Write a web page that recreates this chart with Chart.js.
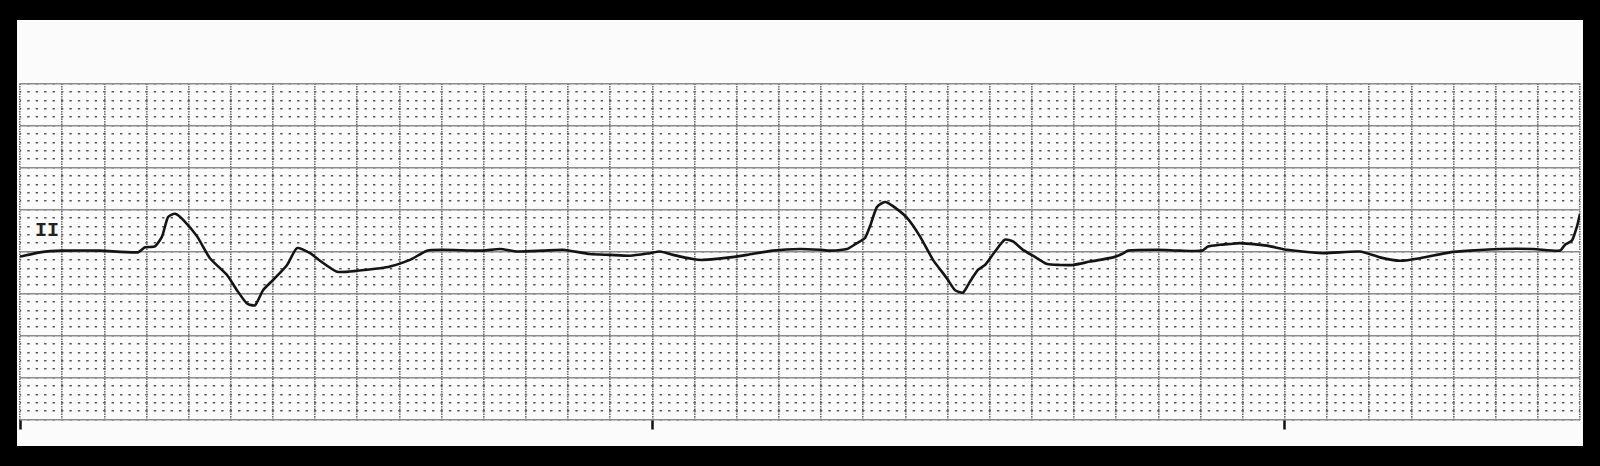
<!DOCTYPE html>
<html>
<head>
<meta charset="utf-8">
<title>ECG derivación II</title>
<script src="https://cdn.jsdelivr.net/npm/chart.js@4.4.1/dist/chart.umd.min.js"></script>
<style>
    html, body { margin: 0; padding: 0; width: 1600px; height: 466px; overflow: hidden; background: #000; }
    .paper { position: absolute; left: 17px; top: 20px; width: 1566px; height: 426px; background: #fbfbfb; }
    #ecg { position: absolute; left: 0; top: 0; }
    .lead { position: absolute; left: 33px; top: 219px; padding: 0 2px; line-height: 22px;
            font: bold 20px "Liberation Mono", "DejaVu Sans Mono", monospace; color: #222; background: #fbfbfb; }
</style>
</head>
<body>
<div class="paper"></div>
<canvas id="ecg" width="1600" height="466"></canvas>
<div class="lead">II</div>
<script>
'use strict';

const tiempoMs = [0, 95, 204, 380, 560, 593, 640, 674, 702, 735,
    773, 840, 901, 982, 1029, 1077, 1115, 1153, 1200, 1267,
    1314, 1376, 1423, 1504, 1599, 1708, 1755, 1850, 1931, 2007,
    2196, 2277, 2358, 2481, 2576, 2704, 2799, 2894, 2988, 3036,
    3098, 3192, 3240, 3368, 3449, 3572, 3700, 3795, 3842, 3923,
    3970, 4008, 4032, 4065, 4103, 4141, 4208, 4269, 4331, 4397,
    4435, 4473, 4506, 4544, 4578, 4625, 4672, 4710, 4758, 4805,
    4872, 4933, 4995, 5076, 5185, 5227, 5256, 5393, 5503, 5607,
    5635, 5692, 5740, 5787, 5915, 6010, 6181, 6356, 6451, 6546,
    6641, 6783, 6878, 7021, 7177, 7305, 7329, 7362, 7386, 7400];

const voltajeMv = [-0.06, -0.01, 0.01, 0.01, -0.01, 0.05, 0.06, 0.18, 0.41, 0.45,
    0.38, 0.18, -0.08, -0.28, -0.46, -0.62, -0.64, -0.46, -0.34, -0.16,
    0.04, -0.02, -0.11, -0.24, -0.23, -0.2, -0.18, -0.1, 0.01, 0.02,
    0.01, 0.03, 0, 0.01, 0.02, -0.03, -0.04, -0.05, -0.02, 0,
    -0.04, -0.09, -0.1, -0.07, -0.04, 0.01, 0.03, 0.02, 0.01, 0.03,
    0.1, 0.16, 0.3, 0.53, 0.59, 0.54, 0.4, 0.18, -0.1, -0.32,
    -0.46, -0.49, -0.36, -0.22, -0.16, 0, 0.14, 0.12, 0.02, -0.05,
    -0.15, -0.16, -0.16, -0.12, -0.07, -0.03, 0.01, 0.02, 0.01, 0.01,
    0.06, 0.08, 0.09, 0.1, 0.07, 0.02, -0.02, 0, -0.07, -0.11,
    -0.08, -0.01, 0.01, 0.03, 0.03, 0.01, 0.08, 0.13, 0.3, 0.45];

/*papel: 25 mm/s, 10 mm/mV*/
const duracionMs = 7400;
const voltMin = -2;
const voltMax = 2;
const cuadroGrandeMs = 200;
const cuadroGrandeMv = 0.5;
const cuadroChicoMv = 0.1;
const cuadroChicoMs = 40;
const marcaCadaMs = 3000;

const puntos = tiempoMs.map((t, i) => ({ x: t, y: voltajeMv[i] }));

// ancho del área del gráfico, para el paso de los puntitos
const anchoArea = 1600 - 20 - 20;
const pasoChico = anchoArea / (duracionMs / cuadroChicoMs);

// solo una marca cada 3 segundos
function esMarca(ctx) {
    return ctx.tick && ctx.tick.value % marcaCadaMs === 0;
}

new Chart(document.getElementById('ecg'), {
    type: 'line',
    data: {
        datasets: [{
            label: 'II',
            data: puntos,
            borderColor: '#141414',
            borderWidth: 2.6,
            pointRadius: 0,
            tension: 0.2,
            fill: false
        }]
    },
    options: {
        responsive: false,
        animation: false,
        devicePixelRatio: 1,
        layout: {
            padding: { left: 20, right: 20, top: 83.5, bottom: 36.5 }
        },
        plugins: {
            legend: { display: false },
            tooltip: { enabled: false }
        },
        scales: {
            x: {
                type: 'linear',
                position: 'bottom',
                min: 0,
                max: duracionMs,
                bounds: 'data',
                ticks: { display: false, stepSize: cuadroGrandeMs },
                grid: { color: '#6e6e6e', lineWidth: 1.6, drawTicks: false, z: -1 },
                border: { display: false, dash: [1.4, 1.1] }
            },
            xMarcas: {
                type: 'linear',
                axis: 'x',
                position: 'bottom',
                min: 0,
                max: duracionMs,
                bounds: 'data',
                ticks: { display: false, stepSize: cuadroGrandeMs },
                grid: {
                    drawOnChartArea: false,
                    drawTicks: true,
                    tickLength: 10,
                    tickWidth: 2.5,
                    tickColor: (ctx) => esMarca(ctx) ? '#111' : 'rgba(0,0,0,0)'
                },
                border: { display: false }
            },
            y: {
                type: 'linear',
                position: 'left',
                min: voltMin,
                max: voltMax,
                bounds: 'data',
                ticks: { display: false, stepSize: cuadroGrandeMv },
                grid: { color: '#8c8c8c', lineWidth: 1.4, drawTicks: false, z: -1 },
                border: { display: false }
            },
            yChico: {
                type: 'linear',
                axis: 'y',
                position: 'left',
                min: voltMin,
                max: voltMax,
                bounds: 'data',
                ticks: { display: false, stepSize: cuadroChicoMv },
                grid: { color: '#555', lineWidth: 1.4, drawTicks: false, z: -2 },
                border: { display: false, dash: [2.4, pasoChico - 2.4], dashOffset: 1.2 }
            }
        }
    }
});
</script>
</body>
</html>
